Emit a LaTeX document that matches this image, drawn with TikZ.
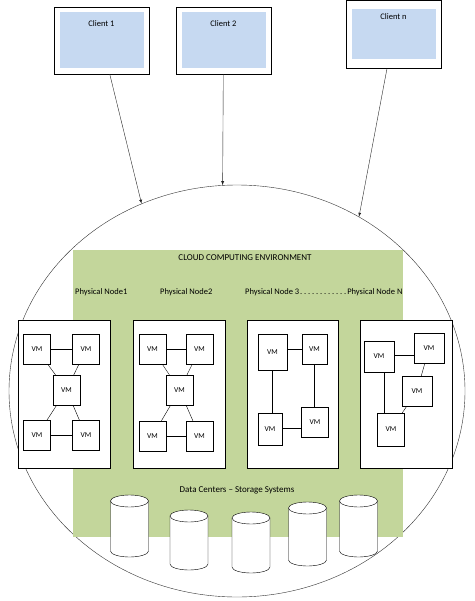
\documentclass[tikz,border=0pt]{standalone}
\usepackage{fontspec}
\setmainfont{Carlito}
\usetikzlibrary{shapes.geometric}
\definecolor{envgreen}{RGB}{195,214,155}
\definecolor{clientblue}{RGB}{198,217,241}

\begin{document}
\begin{tikzpicture}[x=1pt,y=-1pt,font=\fontsize{8.5}{10}\selectfont]
  \def\vmw{27pt}
  \def\vmh{30pt}
  \def\dr{19}

\tikzstyle{clientbox}=[draw,fill=white,minimum width=95pt,minimum height=67pt,inner sep=0pt]
\tikzstyle{clientin}=[fill=clientblue,minimum width=84pt,inner xsep=0pt,inner ysep=7pt,text height=7pt,text depth=35pt]
\tikzstyle{physbox}=[draw,fill=white,minimum width=92pt,minimum height=148pt,inner sep=0pt]
\tikzstyle{vm}=[draw,fill=white,minimum width=\vmw,minimum height=\vmh,inner sep=0pt,font=\fontsize{7.5}{8}\selectfont]
\tikzstyle{disk}=[draw,fill=white]
\tikzstyle{link}=[-latex,black!85]

\useasboundingbox (0,0) rectangle (474,601);

\node[draw=black!80,fill=white,ellipse,minimum width=456pt,minimum height=412pt] (cloud) at (237,391) {};
\node[fill=envgreen,minimum width=330pt,minimum height=287pt,inner sep=0pt] (env) at (238,393.5) {};
\node (envlabel) at (245,258) {\fontsize{9}{10}\selectfont CLOUD COMPUTING ENVIRONMENT};
\node[anchor=west,inner sep=0pt] (pn1label) at (75,292) {Physical Node1};
\node[anchor=west,inner sep=0pt] (pn2label) at (160,292) {Physical Node2};
\node[anchor=west,inner sep=0pt] (pnNlabel) at (245,292) {Physical Node 3\hbox to 48pt{\leaders\hbox to 4pt{\hss.\hss}\hfil}Physical Node N};

\node[clientbox] (c1) at (101.5,40.5) {};
\node[clientin] (c1in) at (c1) {Client 1};
\node[clientbox] (c2) at (223.5,40.5) {};
\node[clientin] (c2in) at (c2) {Client 2};
\node[clientbox,minimum height=68pt,line width=0.6pt] (cn) at (393.5,34) {};
\node[clientin,inner ysep=4pt] (cnin) at (cn) {Client n};

\draw[link] (c1) -- (cloud.117.6);
\draw[link] (c2) -- (cloud.94.7);
\draw[link] (cn) -- (cloud.55.6);

\node[physbox] (pn1) at (64,394) {};
\node[physbox] (pn2) at (179,394) {};
\node[physbox,minimum width=91pt] (pn3) at (292.5,394) {};
\node[physbox] (pn4) at (406,394) {};

\node[vm] (v11) at (37,349.5) {VM};
\node[vm] (v12) at (86,349.5) {VM};
\node[vm] (v13) at (66.5,390) {VM};
\node[vm] (v14) at (37,435.5) {VM};
\node[vm] (v15) at (86,435.5) {VM};
\draw (v11) -- (v12);
\draw (v11) -- (v13);
\draw (v12) -- (v13);
\draw (v13) -- (v14);
\draw (v13) -- (v15);
\draw (v14) -- (v15);

\node[vm] (v21) at (152.5,349.5) {VM};
\node[vm] (v22) at (199.5,349.5) {VM};
\node[vm] (v23) at (179.5,390) {VM};
\node[vm] (v24) at (152.5,436) {VM};
\node[vm] (v25) at (199.5,436) {VM};
\draw (v21) -- (v22);
\draw (v21) -- (v23);
\draw (v22) -- (v23);
\draw (v23) -- (v24);
\draw (v23) -- (v25);
\draw (v24) -- (v25);

\node[vm,minimum width=29pt,minimum height=36pt] (v31) at (272.5,352) {VM};
\node[vm,minimum width=25pt] (v32) at (314.5,349) {VM};
\node[vm,minimum width=24pt,minimum height=32pt] (v33) at (270,429) {VM};
\node[vm] (v34) at (315,422) {VM};
\draw (v32.west -| v31.east) -- (v32.west);
\draw (v31) -- (v31 |- v33.north);
\draw (v32) -- (v32 |- v34.north);
\draw (v33.east) ++(0,-1) -- (v34.west |- 0,428);

\node[vm,minimum width=30pt,minimum height=31pt] (v41) at (379,356.5) {VM};
\node[vm,minimum width=30pt] (v42) at (429,348.5) {VM};
\node[vm,minimum width=30pt] (v43) at (417,391) {VM};
\node[vm,minimum height=33pt] (v44) at (391,429.5) {VM};
\draw (v41.east) ++(0,-1.5) -- (v42.west |- 0,355);
\draw ([xshift=5pt]v41.south) -- ([xshift=5pt]v41.south |- v44.north);
\draw (v42) -- (v43);
\draw (v43) -- (v44);

\node (dclabel) at (237,490) {\fontsize{9}{10}\selectfont Data Centers -- Storage Systems};
\foreach \x/\yt/\yb in {129.5/501/551, 189/516/564, 251/518/567, 307.5/508/560, 358.5/501/551}{
  \draw[disk] (\x-\dr,\yt) -- (\x-\dr,\yb) arc[start angle=180,end angle=0,x radius=\dr,y radius=6] -- (\x+\dr,\yt) -- cycle;
  \draw[disk] (\x,\yt) ellipse[x radius=\dr,y radius=6];
}
\end{tikzpicture}
\end{document}
